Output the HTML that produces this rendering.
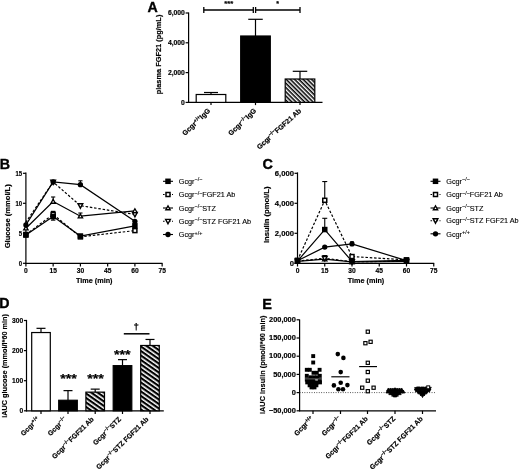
<!DOCTYPE html>
<html><head><meta charset="utf-8"><title>Figure</title><style>html,body{margin:0;padding:0;background:#fff}svg{display:block}</style></head><body>
<svg width="520" height="470" viewBox="0 0 520 470" font-family="Liberation Sans, Arial, sans-serif" fill="#000">
<defs><pattern id="h" width="3" height="3" patternUnits="userSpaceOnUse" patternTransform="rotate(45)"><rect width="3" height="3" fill="#fff"/><rect width="3" height="1.55" fill="#000"/></pattern><pattern id="h2" width="3.68" height="3.68" patternUnits="userSpaceOnUse" patternTransform="translate(0,-0.5) rotate(35)"><rect width="3.68" height="3.68" fill="#fff"/><rect width="3.68" height="2.15" fill="#000"/></pattern></defs>
<rect width="520" height="470" fill="#fff"/>
<text transform="translate(147.60,11.50)" font-size="14.2" font-weight="bold" text-anchor="start" stroke="#000" stroke-width="0.35">A</text>
<line x1="188.60" y1="12.50" x2="188.60" y2="103.00" stroke="#000" stroke-width="1.2" />
<line x1="188.00" y1="102.40" x2="322.50" y2="102.40" stroke="#000" stroke-width="1.2" />
<line x1="185.60" y1="102.40" x2="188.60" y2="102.40" stroke="#000" stroke-width="1.2" />
<text transform="translate(184.90,104.80)" font-size="6.8" font-weight="bold" text-anchor="end"  stroke="#000" stroke-width="0.18">0</text>
<line x1="185.60" y1="72.60" x2="188.60" y2="72.60" stroke="#000" stroke-width="1.2" />
<text transform="translate(184.90,75.00)" font-size="6.8" font-weight="bold" text-anchor="end"  stroke="#000" stroke-width="0.18">2,000</text>
<line x1="185.60" y1="42.80" x2="188.60" y2="42.80" stroke="#000" stroke-width="1.2" />
<text transform="translate(184.90,45.20)" font-size="6.8" font-weight="bold" text-anchor="end"  stroke="#000" stroke-width="0.18">4,000</text>
<line x1="185.60" y1="13.00" x2="188.60" y2="13.00" stroke="#000" stroke-width="1.2" />
<text transform="translate(184.90,15.40)" font-size="6.8" font-weight="bold" text-anchor="end"  stroke="#000" stroke-width="0.18">6,000</text>
<text transform="translate(160.80,54.50) rotate(-90)" font-size="7.4" font-weight="bold" text-anchor="middle"  stroke="#000" stroke-width="0.18">plasma FGF21 (pg/mL)</text>
<line x1="211.00" y1="102.40" x2="211.00" y2="105.10" stroke="#000" stroke-width="1.2" />
<line x1="255.50" y1="102.40" x2="255.50" y2="105.10" stroke="#000" stroke-width="1.2" />
<line x1="300.00" y1="102.40" x2="300.00" y2="105.10" stroke="#000" stroke-width="1.2" />
<line x1="211.00" y1="94.50" x2="211.00" y2="92.50" stroke="#000" stroke-width="1.2" />
<line x1="204.00" y1="92.50" x2="218.00" y2="92.50" stroke="#000" stroke-width="1.2" />
<rect x="196.20" y="94.50" width="29.60" height="7.90" fill="#fff" stroke="#000" stroke-width="1.2"/>
<line x1="255.50" y1="36.00" x2="255.50" y2="19.30" stroke="#000" stroke-width="1.2" />
<line x1="248.25" y1="19.30" x2="262.75" y2="19.30" stroke="#000" stroke-width="1.2" />
<rect x="240.70" y="36.00" width="29.60" height="66.40" fill="#000" stroke="#000" stroke-width="1.2"/>
<line x1="300.00" y1="79.00" x2="300.00" y2="71.30" stroke="#000" stroke-width="1.2" />
<line x1="292.75" y1="71.30" x2="307.25" y2="71.30" stroke="#000" stroke-width="1.2" />
<rect x="285.20" y="79.00" width="29.60" height="23.40" fill="url(#h)" stroke="#000" stroke-width="1.2"/>
<line x1="203.80" y1="10.00" x2="253.30" y2="10.00" stroke="#000" stroke-width="1.4" />
<line x1="203.80" y1="7.00" x2="203.80" y2="13.00" stroke="#000" stroke-width="1.3" />
<line x1="253.30" y1="7.00" x2="253.30" y2="13.00" stroke="#000" stroke-width="1.3" />
<line x1="255.60" y1="10.00" x2="300.00" y2="10.00" stroke="#000" stroke-width="1.4" />
<line x1="255.60" y1="7.00" x2="255.60" y2="13.00" stroke="#000" stroke-width="1.3" />
<line x1="300.00" y1="7.00" x2="300.00" y2="13.00" stroke="#000" stroke-width="1.3" />
<text transform="translate(228.70,6.40) scale(1.1,1)" font-size="7" font-weight="bold" text-anchor="middle"  stroke="#000" stroke-width="0.18">***</text>
<text transform="translate(277.50,6.40)" font-size="7" font-weight="bold" text-anchor="middle"  stroke="#000" stroke-width="0.18">*</text>
<text transform="translate(210.80,111.30) rotate(-44)" font-size="7.05" font-weight="bold" text-anchor="end"  stroke="#000" stroke-width="0.18">Gcgr<tspan font-size="74%" dy="-0.48em">+/+</tspan><tspan dy="0.355em">&#8203;</tspan>IgG</text>
<text transform="translate(256.80,111.30) rotate(-44)" font-size="7.05" font-weight="bold" text-anchor="end"  stroke="#000" stroke-width="0.18">Gcgr<tspan font-size="74%" dy="-0.48em">−/−</tspan><tspan dy="0.355em">&#8203;</tspan>IgG</text>
<text transform="translate(301.80,111.50) rotate(-42)" font-size="7.05" font-weight="bold" text-anchor="end"  stroke="#000" stroke-width="0.18">Gcgr<tspan font-size="74%" dy="-0.48em">−/−</tspan><tspan dy="0.355em">&#8203;</tspan>FGF21 Ab</text>
<text transform="translate(-0.30,168.80)" font-size="14.3" font-weight="bold" text-anchor="start" stroke="#000" stroke-width="0.35">B</text>
<line x1="25.90" y1="172.40" x2="25.90" y2="263.90" stroke="#000" stroke-width="1.2" />
<line x1="25.30" y1="263.30" x2="162.50" y2="263.30" stroke="#000" stroke-width="1.2" />
<line x1="22.90" y1="263.30" x2="25.90" y2="263.30" stroke="#000" stroke-width="1.2" />
<text transform="translate(22.10,265.60) scale(0.82,1)" font-size="7.3" font-weight="bold" text-anchor="end"  stroke="#000" stroke-width="0.18">0</text>
<line x1="22.90" y1="233.30" x2="25.90" y2="233.30" stroke="#000" stroke-width="1.2" />
<text transform="translate(22.10,235.60) scale(0.82,1)" font-size="7.3" font-weight="bold" text-anchor="end"  stroke="#000" stroke-width="0.18">5</text>
<line x1="22.90" y1="203.30" x2="25.90" y2="203.30" stroke="#000" stroke-width="1.2" />
<text transform="translate(22.10,205.60) scale(0.82,1)" font-size="7.3" font-weight="bold" text-anchor="end"  stroke="#000" stroke-width="0.18">10</text>
<line x1="22.90" y1="173.30" x2="25.90" y2="173.30" stroke="#000" stroke-width="1.2" />
<text transform="translate(22.10,175.60) scale(0.82,1)" font-size="7.3" font-weight="bold" text-anchor="end"  stroke="#000" stroke-width="0.18">15</text>
<line x1="25.90" y1="263.30" x2="25.90" y2="266.50" stroke="#000" stroke-width="1.2" />
<text transform="translate(25.90,273.20) scale(0.86,1)" font-size="7.8" font-weight="bold" text-anchor="middle"  stroke="#000" stroke-width="0.18">0</text>
<line x1="53.15" y1="263.30" x2="53.15" y2="266.50" stroke="#000" stroke-width="1.2" />
<text transform="translate(53.15,273.20) scale(0.86,1)" font-size="7.8" font-weight="bold" text-anchor="middle"  stroke="#000" stroke-width="0.18">15</text>
<line x1="80.40" y1="263.30" x2="80.40" y2="266.50" stroke="#000" stroke-width="1.2" />
<text transform="translate(80.40,273.20) scale(0.86,1)" font-size="7.8" font-weight="bold" text-anchor="middle"  stroke="#000" stroke-width="0.18">30</text>
<line x1="107.65" y1="263.30" x2="107.65" y2="266.50" stroke="#000" stroke-width="1.2" />
<text transform="translate(107.65,273.20) scale(0.86,1)" font-size="7.8" font-weight="bold" text-anchor="middle"  stroke="#000" stroke-width="0.18">45</text>
<line x1="134.90" y1="263.30" x2="134.90" y2="266.50" stroke="#000" stroke-width="1.2" />
<text transform="translate(134.90,273.20) scale(0.86,1)" font-size="7.8" font-weight="bold" text-anchor="middle"  stroke="#000" stroke-width="0.18">60</text>
<line x1="162.15" y1="263.30" x2="162.15" y2="266.50" stroke="#000" stroke-width="1.2" />
<text transform="translate(162.15,273.20) scale(0.86,1)" font-size="7.8" font-weight="bold" text-anchor="middle"  stroke="#000" stroke-width="0.18">75</text>
<text transform="translate(94.30,282.90) scale(0.93,1)" font-size="7.8" font-weight="bold" text-anchor="middle"  stroke="#000" stroke-width="0.18">Time (min)</text>
<text transform="translate(10.00,216.30) rotate(-90)" font-size="7.6" font-weight="bold" text-anchor="middle"  stroke="#000" stroke-width="0.18">Glucose (mmol/L)</text>
<polyline points="25.90,234.50 53.15,214.40 80.40,236.90 134.90,230.60" fill="none" stroke="#000" stroke-width="1.2" stroke-dasharray="2.5,1.8"/>
<polyline points="25.70,222.50 53.15,182.00 80.40,205.70 134.90,214.40" fill="none" stroke="#000" stroke-width="1.2" stroke-dasharray="2.5,1.8"/>
<polyline points="25.90,235.10 53.15,216.50 80.40,236.00 134.90,225.80" fill="none" stroke="#000" stroke-width="1.2"/>
<polyline points="25.90,228.20 53.15,201.50 80.40,216.20 134.90,210.80" fill="none" stroke="#000" stroke-width="1.2"/>
<polyline points="25.90,224.90 53.15,182.00 80.40,184.70 134.90,221.30" fill="none" stroke="#000" stroke-width="1.2"/>
<line x1="53.15" y1="200.90" x2="53.15" y2="197.00" stroke="#000" stroke-width="1.1" />
<line x1="51.05" y1="197.00" x2="55.25" y2="197.00" stroke="#000" stroke-width="1.1" />
<line x1="80.40" y1="215.30" x2="80.40" y2="213.02" stroke="#000" stroke-width="1.1" />
<line x1="78.30" y1="213.02" x2="82.50" y2="213.02" stroke="#000" stroke-width="1.1" />
<line x1="80.40" y1="184.70" x2="80.40" y2="180.80" stroke="#000" stroke-width="1.1" />
<line x1="78.30" y1="180.80" x2="82.50" y2="180.80" stroke="#000" stroke-width="1.1" />
<line x1="53.15" y1="216.50" x2="53.15" y2="211.40" stroke="#000" stroke-width="1.2" />
<line x1="50.95" y1="211.40" x2="55.35" y2="211.40" stroke="#000" stroke-width="1.2" />
<line x1="53.15" y1="216.50" x2="53.15" y2="220.10" stroke="#000" stroke-width="1.2" />
<line x1="50.95" y1="220.10" x2="55.35" y2="220.10" stroke="#000" stroke-width="1.2" />
<rect x="23.90" y="232.50" width="4.0" height="4.0" fill="#fff" stroke="#000" stroke-width="1.5"/>
<rect x="51.15" y="212.40" width="4.0" height="4.0" fill="#fff" stroke="#000" stroke-width="1.5"/>
<rect x="78.40" y="234.90" width="4.0" height="4.0" fill="#fff" stroke="#000" stroke-width="1.5"/>
<rect x="132.90" y="228.60" width="4.0" height="4.0" fill="#fff" stroke="#000" stroke-width="1.5"/>
<polygon points="53.15,184.47 55.50,180.12 50.80,180.12" fill="#fff" stroke="#000" stroke-width="1.4" stroke-linejoin="miter"/>
<polygon points="80.40,208.17 82.75,203.82 78.05,203.82" fill="#fff" stroke="#000" stroke-width="1.4" stroke-linejoin="miter"/>
<polygon points="134.90,216.87 137.25,212.52 132.55,212.52" fill="#fff" stroke="#000" stroke-width="1.4" stroke-linejoin="miter"/>
<polygon points="25.90,226.11 28.10,229.96 23.70,229.96" fill="#fff" stroke="#000" stroke-width="1.3" stroke-linejoin="miter"/>
<polygon points="53.15,199.41 55.35,203.26 50.95,203.26" fill="#fff" stroke="#000" stroke-width="1.3" stroke-linejoin="miter"/>
<polygon points="80.40,214.11 82.60,217.96 78.20,217.96" fill="#fff" stroke="#000" stroke-width="1.3" stroke-linejoin="miter"/>
<polygon points="134.90,208.71 137.10,212.56 132.70,212.56" fill="#fff" stroke="#000" stroke-width="1.3" stroke-linejoin="miter"/>
<rect x="23.15" y="232.35" width="5.5" height="5.5" fill="#000"/>
<rect x="50.40" y="213.75" width="5.5" height="5.5" fill="#000"/>
<rect x="77.65" y="233.25" width="5.5" height="5.5" fill="#000"/>
<rect x="132.15" y="223.05" width="5.5" height="5.5" fill="#000"/>
<circle cx="25.90" cy="224.90" r="2.65" fill="#000"/>
<circle cx="53.15" cy="182.00" r="2.65" fill="#000"/>
<circle cx="80.40" cy="184.70" r="2.65" fill="#000"/>
<circle cx="134.90" cy="221.30" r="2.65" fill="#000"/>
<line x1="163.00" y1="181.30" x2="173.00" y2="181.30" stroke="#000" stroke-width="1.1" />
<rect x="165.25" y="178.55" width="5.5" height="5.5" fill="#000"/>
<text transform="translate(178.80,184.00)" font-size="7.25" font-weight="normal" text-anchor="start" stroke="#000" stroke-width="0.12">Gcgr<tspan font-size="74%" dy="-0.48em">−/−</tspan><tspan dy="0.355em">&#8203;</tspan></text>
<line x1="163.00" y1="194.50" x2="173.00" y2="194.50" stroke="#000" stroke-width="1.1" stroke-dasharray="1.6,1.4" />
<rect x="166.00" y="192.50" width="4.0" height="4.0" fill="#fff" stroke="#000" stroke-width="1.5"/>
<text transform="translate(178.80,197.20)" font-size="7.25" font-weight="normal" text-anchor="start" stroke="#000" stroke-width="0.12">Gcgr<tspan font-size="74%" dy="-0.48em">−/−</tspan><tspan dy="0.355em">&#8203;</tspan>FGF21 Ab</text>
<line x1="163.00" y1="208.00" x2="173.00" y2="208.00" stroke="#000" stroke-width="1.1" />
<polygon points="168.00,205.91 170.20,209.76 165.80,209.76" fill="#fff" stroke="#000" stroke-width="1.3" stroke-linejoin="miter"/>
<text transform="translate(178.80,210.70)" font-size="7.25" font-weight="normal" text-anchor="start" stroke="#000" stroke-width="0.12">Gcgr<tspan font-size="74%" dy="-0.48em">−/−</tspan><tspan dy="0.355em">&#8203;</tspan>STZ</text>
<line x1="163.00" y1="221.30" x2="173.00" y2="221.30" stroke="#000" stroke-width="1.1" stroke-dasharray="1.6,1.4" />
<polygon points="168.00,223.77 170.35,219.42 165.65,219.42" fill="#fff" stroke="#000" stroke-width="1.4" stroke-linejoin="miter"/>
<text transform="translate(178.80,224.00)" font-size="7.25" font-weight="normal" text-anchor="start" stroke="#000" stroke-width="0.12">Gcgr<tspan font-size="74%" dy="-0.48em">−/−</tspan><tspan dy="0.355em">&#8203;</tspan>STZ FGF21 Ab</text>
<line x1="163.00" y1="234.50" x2="173.00" y2="234.50" stroke="#000" stroke-width="1.1" />
<circle cx="168.00" cy="234.50" r="2.65" fill="#000"/>
<text transform="translate(178.80,237.20)" font-size="7.25" font-weight="normal" text-anchor="start" stroke="#000" stroke-width="0.12">Gcgr<tspan font-size="74%" dy="-0.48em">+/+</tspan><tspan dy="0.355em">&#8203;</tspan></text>
<text transform="translate(262.40,169.10)" font-size="14.4" font-weight="bold" text-anchor="start" stroke="#000" stroke-width="0.35">C</text>
<line x1="297.50" y1="172.40" x2="297.50" y2="263.90" stroke="#000" stroke-width="1.2" />
<line x1="296.90" y1="263.30" x2="434.20" y2="263.30" stroke="#000" stroke-width="1.2" />
<line x1="294.50" y1="263.30" x2="297.50" y2="263.30" stroke="#000" stroke-width="1.2" />
<text transform="translate(294.00,265.80) scale(0.98,1)" font-size="7.8" font-weight="bold" text-anchor="end"  stroke="#000" stroke-width="0.18">0</text>
<line x1="294.50" y1="233.30" x2="297.50" y2="233.30" stroke="#000" stroke-width="1.2" />
<text transform="translate(294.00,235.80) scale(0.98,1)" font-size="7.8" font-weight="bold" text-anchor="end"  stroke="#000" stroke-width="0.18">2,000</text>
<line x1="294.50" y1="203.30" x2="297.50" y2="203.30" stroke="#000" stroke-width="1.2" />
<text transform="translate(294.00,205.80) scale(0.98,1)" font-size="7.8" font-weight="bold" text-anchor="end"  stroke="#000" stroke-width="0.18">4,000</text>
<line x1="294.50" y1="173.30" x2="297.50" y2="173.30" stroke="#000" stroke-width="1.2" />
<text transform="translate(294.00,175.80) scale(0.98,1)" font-size="7.8" font-weight="bold" text-anchor="end"  stroke="#000" stroke-width="0.18">6,000</text>
<line x1="297.50" y1="263.30" x2="297.50" y2="266.50" stroke="#000" stroke-width="1.2" />
<text transform="translate(297.50,273.20) scale(0.86,1)" font-size="7.8" font-weight="bold" text-anchor="middle"  stroke="#000" stroke-width="0.18">0</text>
<line x1="324.75" y1="263.30" x2="324.75" y2="266.50" stroke="#000" stroke-width="1.2" />
<text transform="translate(324.75,273.20) scale(0.86,1)" font-size="7.8" font-weight="bold" text-anchor="middle"  stroke="#000" stroke-width="0.18">15</text>
<line x1="352.00" y1="263.30" x2="352.00" y2="266.50" stroke="#000" stroke-width="1.2" />
<text transform="translate(352.00,273.20) scale(0.86,1)" font-size="7.8" font-weight="bold" text-anchor="middle"  stroke="#000" stroke-width="0.18">30</text>
<line x1="379.25" y1="263.30" x2="379.25" y2="266.50" stroke="#000" stroke-width="1.2" />
<text transform="translate(379.25,273.20) scale(0.86,1)" font-size="7.8" font-weight="bold" text-anchor="middle"  stroke="#000" stroke-width="0.18">45</text>
<line x1="406.50" y1="263.30" x2="406.50" y2="266.50" stroke="#000" stroke-width="1.2" />
<text transform="translate(406.50,273.20) scale(0.86,1)" font-size="7.8" font-weight="bold" text-anchor="middle"  stroke="#000" stroke-width="0.18">60</text>
<line x1="433.75" y1="263.30" x2="433.75" y2="266.50" stroke="#000" stroke-width="1.2" />
<text transform="translate(433.75,273.20) scale(0.86,1)" font-size="7.8" font-weight="bold" text-anchor="middle"  stroke="#000" stroke-width="0.18">75</text>
<text transform="translate(366.00,282.90) scale(0.93,1)" font-size="7.8" font-weight="bold" text-anchor="middle"  stroke="#000" stroke-width="0.18">Time (min)</text>
<text transform="translate(268.50,214.80) rotate(-90)" font-size="7.6" font-weight="bold" text-anchor="middle"  stroke="#000" stroke-width="0.18">Insulin (pmol/L)</text>
<polyline points="297.50,260.30 324.75,200.30 352.00,256.55 406.50,259.85" fill="none" stroke="#000" stroke-width="1.2" stroke-dasharray="2.5,1.8"/>
<polyline points="297.50,261.05 324.75,258.35 352.00,261.65 406.50,261.35" fill="none" stroke="#000" stroke-width="1.2" stroke-dasharray="2.5,1.8"/>
<polyline points="297.50,261.35 324.75,259.10 352.00,261.95 406.50,261.50" fill="none" stroke="#000" stroke-width="1.2"/>
<polyline points="297.50,261.05 324.75,229.55 352.00,261.50 406.50,260.30" fill="none" stroke="#000" stroke-width="1.2"/>
<polyline points="297.50,260.75 324.75,247.10 352.00,243.95 406.50,260.60" fill="none" stroke="#000" stroke-width="1.2"/>
<line x1="324.75" y1="200.30" x2="324.75" y2="181.55" stroke="#000" stroke-width="1.1" />
<line x1="322.25" y1="181.55" x2="327.25" y2="181.55" stroke="#000" stroke-width="1.1" />
<line x1="324.75" y1="229.55" x2="324.75" y2="218.30" stroke="#000" stroke-width="1.1" />
<line x1="322.25" y1="218.30" x2="327.25" y2="218.30" stroke="#000" stroke-width="1.1" />
<line x1="324.75" y1="258.35" x2="324.75" y2="255.50" stroke="#000" stroke-width="1" />
<line x1="322.25" y1="255.50" x2="327.25" y2="255.50" stroke="#000" stroke-width="1" />
<line x1="352.00" y1="243.95" x2="352.00" y2="241.70" stroke="#000" stroke-width="1" />
<line x1="350.20" y1="241.70" x2="353.80" y2="241.70" stroke="#000" stroke-width="1" />
<polygon points="297.50,259.26 299.70,263.11 295.30,263.11" fill="#fff" stroke="#000" stroke-width="1.3" stroke-linejoin="miter"/>
<polygon points="324.75,257.01 326.95,260.86 322.55,260.86" fill="#fff" stroke="#000" stroke-width="1.3" stroke-linejoin="miter"/>
<polygon points="352.00,259.86 354.20,263.71 349.80,263.71" fill="#fff" stroke="#000" stroke-width="1.3" stroke-linejoin="miter"/>
<polygon points="406.50,259.41 408.70,263.26 404.30,263.26" fill="#fff" stroke="#000" stroke-width="1.3" stroke-linejoin="miter"/>
<polygon points="297.50,263.52 299.85,259.17 295.15,259.17" fill="#fff" stroke="#000" stroke-width="1.4" stroke-linejoin="miter"/>
<polygon points="324.75,260.82 327.10,256.47 322.40,256.47" fill="#fff" stroke="#000" stroke-width="1.4" stroke-linejoin="miter"/>
<polygon points="352.00,264.12 354.35,259.77 349.65,259.77" fill="#fff" stroke="#000" stroke-width="1.4" stroke-linejoin="miter"/>
<polygon points="406.50,263.82 408.85,259.47 404.15,259.47" fill="#fff" stroke="#000" stroke-width="1.4" stroke-linejoin="miter"/>
<rect x="295.50" y="258.30" width="4.0" height="4.0" fill="#fff" stroke="#000" stroke-width="1.5"/>
<rect x="322.75" y="198.30" width="4.0" height="4.0" fill="#fff" stroke="#000" stroke-width="1.5"/>
<rect x="350.00" y="254.55" width="4.0" height="4.0" fill="#fff" stroke="#000" stroke-width="1.5"/>
<rect x="404.50" y="257.85" width="4.0" height="4.0" fill="#fff" stroke="#000" stroke-width="1.5"/>
<circle cx="297.50" cy="260.75" r="2.65" fill="#000"/>
<circle cx="324.75" cy="247.10" r="2.65" fill="#000"/>
<circle cx="352.00" cy="243.95" r="2.65" fill="#000"/>
<circle cx="406.50" cy="260.60" r="2.65" fill="#000"/>
<rect x="294.75" y="258.30" width="5.5" height="5.5" fill="#000"/>
<rect x="322.00" y="226.80" width="5.5" height="5.5" fill="#000"/>
<rect x="349.25" y="258.75" width="5.5" height="5.5" fill="#000"/>
<rect x="403.75" y="257.55" width="5.5" height="5.5" fill="#000"/>
<line x1="430.50" y1="181.30" x2="440.50" y2="181.30" stroke="#000" stroke-width="1.1" />
<rect x="432.75" y="178.55" width="5.5" height="5.5" fill="#000"/>
<text transform="translate(446.30,184.00)" font-size="7.25" font-weight="normal" text-anchor="start" stroke="#000" stroke-width="0.12">Gcgr<tspan font-size="74%" dy="-0.48em">−/−</tspan><tspan dy="0.355em">&#8203;</tspan></text>
<line x1="430.50" y1="194.50" x2="440.50" y2="194.50" stroke="#000" stroke-width="1.1" stroke-dasharray="1.6,1.4" />
<rect x="433.50" y="192.50" width="4.0" height="4.0" fill="#fff" stroke="#000" stroke-width="1.5"/>
<text transform="translate(446.30,197.20)" font-size="7.25" font-weight="normal" text-anchor="start" stroke="#000" stroke-width="0.12">Gcgr<tspan font-size="74%" dy="-0.48em">−/−</tspan><tspan dy="0.355em">&#8203;</tspan>FGF21 Ab</text>
<line x1="430.50" y1="208.00" x2="440.50" y2="208.00" stroke="#000" stroke-width="1.1" />
<polygon points="435.50,205.91 437.70,209.76 433.30,209.76" fill="#fff" stroke="#000" stroke-width="1.3" stroke-linejoin="miter"/>
<text transform="translate(446.30,210.70)" font-size="7.25" font-weight="normal" text-anchor="start" stroke="#000" stroke-width="0.12">Gcgr<tspan font-size="74%" dy="-0.48em">−/−</tspan><tspan dy="0.355em">&#8203;</tspan>STZ</text>
<line x1="430.50" y1="220.70" x2="440.50" y2="220.70" stroke="#000" stroke-width="1.1" stroke-dasharray="1.6,1.4" />
<polygon points="435.50,223.17 437.85,218.82 433.15,218.82" fill="#fff" stroke="#000" stroke-width="1.4" stroke-linejoin="miter"/>
<text transform="translate(446.30,223.40)" font-size="7.25" font-weight="normal" text-anchor="start" stroke="#000" stroke-width="0.12">Gcgr<tspan font-size="74%" dy="-0.48em">−/−</tspan><tspan dy="0.355em">&#8203;</tspan>STZ FGF21 Ab</text>
<line x1="430.50" y1="233.80" x2="440.50" y2="233.80" stroke="#000" stroke-width="1.1" />
<circle cx="435.50" cy="233.80" r="2.65" fill="#000"/>
<text transform="translate(446.30,236.50)" font-size="7.25" font-weight="normal" text-anchor="start" stroke="#000" stroke-width="0.12">Gcgr<tspan font-size="74%" dy="-0.48em">+/+</tspan><tspan dy="0.355em">&#8203;</tspan></text>
<text transform="translate(-0.80,308.40)" font-size="14.2" font-weight="bold" text-anchor="start" stroke="#000" stroke-width="0.35">D</text>
<line x1="26.50" y1="319.90" x2="26.50" y2="411.40" stroke="#000" stroke-width="1.2" />
<line x1="25.90" y1="410.80" x2="163.80" y2="410.80" stroke="#000" stroke-width="1.2" />
<line x1="23.90" y1="410.80" x2="26.50" y2="410.80" stroke="#000" stroke-width="1.2" />
<text transform="translate(23.20,413.40) scale(0.84,1)" font-size="8" font-weight="bold" text-anchor="end"  stroke="#000" stroke-width="0.18">0</text>
<line x1="23.90" y1="380.70" x2="26.50" y2="380.70" stroke="#000" stroke-width="1.2" />
<text transform="translate(23.20,383.30) scale(0.84,1)" font-size="8" font-weight="bold" text-anchor="end"  stroke="#000" stroke-width="0.18">100</text>
<line x1="23.90" y1="350.60" x2="26.50" y2="350.60" stroke="#000" stroke-width="1.2" />
<text transform="translate(23.20,353.20) scale(0.84,1)" font-size="8" font-weight="bold" text-anchor="end"  stroke="#000" stroke-width="0.18">200</text>
<line x1="23.90" y1="320.50" x2="26.50" y2="320.50" stroke="#000" stroke-width="1.2" />
<text transform="translate(23.20,323.10) scale(0.84,1)" font-size="8" font-weight="bold" text-anchor="end"  stroke="#000" stroke-width="0.18">300</text>
<text transform="translate(7.10,365.90) rotate(-90) scale(1,0.9)" font-size="7.3" font-weight="bold" text-anchor="middle"  stroke="#000" stroke-width="0.18">iAUC glucose (mmol/l*60 min)</text>
<line x1="41.00" y1="410.80" x2="41.00" y2="414.00" stroke="#000" stroke-width="1.2" />
<line x1="41.00" y1="332.54" x2="41.00" y2="328.33" stroke="#000" stroke-width="1.2" />
<line x1="36.50" y1="328.33" x2="45.50" y2="328.33" stroke="#000" stroke-width="1.2" />
<rect x="31.70" y="332.54" width="18.60" height="78.26" fill="#fff" stroke="#000" stroke-width="1.2"/>
<line x1="68.00" y1="410.80" x2="68.00" y2="414.00" stroke="#000" stroke-width="1.2" />
<line x1="68.00" y1="400.26" x2="68.00" y2="390.63" stroke="#000" stroke-width="1.2" />
<line x1="63.50" y1="390.63" x2="72.50" y2="390.63" stroke="#000" stroke-width="1.2" />
<rect x="58.70" y="400.26" width="18.60" height="10.54" fill="#000" stroke="#000" stroke-width="1.2"/>
<line x1="95.20" y1="410.80" x2="95.20" y2="414.00" stroke="#000" stroke-width="1.2" />
<line x1="95.20" y1="392.14" x2="95.20" y2="389.13" stroke="#000" stroke-width="1.2" />
<line x1="90.70" y1="389.13" x2="99.70" y2="389.13" stroke="#000" stroke-width="1.2" />
<rect x="85.90" y="392.14" width="18.60" height="18.66" fill="url(#h2)" stroke="#000" stroke-width="1.2"/>
<line x1="122.50" y1="410.80" x2="122.50" y2="414.00" stroke="#000" stroke-width="1.2" />
<line x1="122.50" y1="365.65" x2="122.50" y2="359.63" stroke="#000" stroke-width="1.2" />
<line x1="118.00" y1="359.63" x2="127.00" y2="359.63" stroke="#000" stroke-width="1.2" />
<rect x="113.20" y="365.65" width="18.60" height="45.15" fill="#000" stroke="#000" stroke-width="1.2"/>
<line x1="150.00" y1="410.80" x2="150.00" y2="414.00" stroke="#000" stroke-width="1.2" />
<line x1="150.00" y1="345.48" x2="150.00" y2="339.46" stroke="#000" stroke-width="1.2" />
<line x1="145.50" y1="339.46" x2="154.50" y2="339.46" stroke="#000" stroke-width="1.2" />
<rect x="140.70" y="345.48" width="18.60" height="65.32" fill="url(#h2)" stroke="#000" stroke-width="1.2"/>
<text transform="translate(68.50,383.20) scale(1.1,1)" font-size="13" font-weight="bold" text-anchor="middle"  stroke="#000" stroke-width="0.18">***</text>
<text transform="translate(95.50,383.20) scale(1.1,1)" font-size="13" font-weight="bold" text-anchor="middle"  stroke="#000" stroke-width="0.18">***</text>
<text transform="translate(122.30,359.30) scale(1.1,1)" font-size="13" font-weight="bold" text-anchor="middle"  stroke="#000" stroke-width="0.18">***</text>
<line x1="123.80" y1="333.80" x2="149.50" y2="333.80" stroke="#000" stroke-width="1.5" />
<text transform="translate(136.30,329.60)" font-size="9.8" font-weight="bold" text-anchor="middle"  stroke="#000" stroke-width="0.18">†</text>
<text transform="translate(40.00,419.70) rotate(-45)" font-size="6.9" font-weight="bold" text-anchor="end"  stroke="#000" stroke-width="0.18">Gcgr<tspan font-size="74%" dy="-0.48em">+/+</tspan><tspan dy="0.355em">&#8203;</tspan></text>
<text transform="translate(67.00,419.70) rotate(-45)" font-size="6.9" font-weight="bold" text-anchor="end"  stroke="#000" stroke-width="0.18">Gcgr<tspan font-size="74%" dy="-0.48em">−/−</tspan><tspan dy="0.355em">&#8203;</tspan></text>
<text transform="translate(94.20,419.70) rotate(-45)" font-size="6.9" font-weight="bold" text-anchor="end"  stroke="#000" stroke-width="0.18">Gcgr<tspan font-size="74%" dy="-0.48em">−/−</tspan><tspan dy="0.355em">&#8203;</tspan>FGF21 Ab</text>
<text transform="translate(121.50,419.70) rotate(-45)" font-size="6.9" font-weight="bold" text-anchor="end"  stroke="#000" stroke-width="0.18">Gcgr<tspan font-size="74%" dy="-0.48em">−/−</tspan><tspan dy="0.355em">&#8203;</tspan>STZ</text>
<text transform="translate(149.00,419.70) rotate(-45)" font-size="6.9" font-weight="bold" text-anchor="end"  stroke="#000" stroke-width="0.18">Gcgr<tspan font-size="74%" dy="-0.48em">−/−</tspan><tspan dy="0.355em">&#8203;</tspan>STZ FGF21 Ab</text>
<text transform="translate(262.30,308.70)" font-size="14.5" font-weight="bold" text-anchor="start" stroke="#000" stroke-width="0.35">E</text>
<line x1="299.60" y1="319.60" x2="299.60" y2="411.30" stroke="#000" stroke-width="1.2" />
<line x1="299.00" y1="410.80" x2="436.00" y2="410.80" stroke="#000" stroke-width="1.2" />
<line x1="299.60" y1="392.60" x2="436.00" y2="392.60" stroke="#000" stroke-width="0.9" stroke-dasharray="0.9,1.5" opacity="0.8"/>
<line x1="296.60" y1="410.80" x2="299.60" y2="410.80" stroke="#000" stroke-width="1.2" />
<text transform="translate(295.80,412.90)" font-size="7.4" font-weight="bold" text-anchor="end"  stroke="#000" stroke-width="0.18">−50,000</text>
<line x1="296.60" y1="392.60" x2="299.60" y2="392.60" stroke="#000" stroke-width="1.2" />
<text transform="translate(295.80,394.70)" font-size="7.4" font-weight="bold" text-anchor="end"  stroke="#000" stroke-width="0.18">0</text>
<line x1="296.60" y1="374.40" x2="299.60" y2="374.40" stroke="#000" stroke-width="1.2" />
<text transform="translate(295.80,376.50)" font-size="7.4" font-weight="bold" text-anchor="end"  stroke="#000" stroke-width="0.18">50,000</text>
<line x1="296.60" y1="356.20" x2="299.60" y2="356.20" stroke="#000" stroke-width="1.2" />
<text transform="translate(295.80,358.30)" font-size="7.4" font-weight="bold" text-anchor="end"  stroke="#000" stroke-width="0.18">100,000</text>
<line x1="296.60" y1="338.00" x2="299.60" y2="338.00" stroke="#000" stroke-width="1.2" />
<text transform="translate(295.80,340.10)" font-size="7.4" font-weight="bold" text-anchor="end"  stroke="#000" stroke-width="0.18">150,000</text>
<line x1="296.60" y1="319.80" x2="299.60" y2="319.80" stroke="#000" stroke-width="1.2" />
<text transform="translate(295.80,321.90)" font-size="7.4" font-weight="bold" text-anchor="end"  stroke="#000" stroke-width="0.18">200,000</text>
<text transform="translate(264.60,364.80) rotate(-90) scale(1,0.97)" font-size="7.35" font-weight="bold" text-anchor="middle"  stroke="#000" stroke-width="0.18">iAUC insulin (pmol/l*60 min)</text>
<line x1="313.00" y1="410.80" x2="313.00" y2="414.00" stroke="#000" stroke-width="1.2" />
<line x1="340.50" y1="410.80" x2="340.50" y2="414.00" stroke="#000" stroke-width="1.2" />
<line x1="367.50" y1="410.80" x2="367.50" y2="414.00" stroke="#000" stroke-width="1.2" />
<line x1="395.00" y1="410.80" x2="395.00" y2="414.00" stroke="#000" stroke-width="1.2" />
<line x1="422.50" y1="410.80" x2="422.50" y2="414.00" stroke="#000" stroke-width="1.2" />
<rect x="311.25" y="354.15" width="3.9" height="3.9" fill="#000"/>
<rect x="311.25" y="360.55" width="3.9" height="3.9" fill="#000"/>
<rect x="304.85" y="367.85" width="3.9" height="3.9" fill="#000"/>
<rect x="307.85" y="367.85" width="3.9" height="3.9" fill="#000"/>
<rect x="317.65" y="367.85" width="3.9" height="3.9" fill="#000"/>
<rect x="311.55" y="370.85" width="3.9" height="3.9" fill="#000"/>
<rect x="314.85" y="370.85" width="3.9" height="3.9" fill="#000"/>
<rect x="304.85" y="373.85" width="3.9" height="3.9" fill="#000"/>
<rect x="317.85" y="373.85" width="3.9" height="3.9" fill="#000"/>
<rect x="308.55" y="375.35" width="3.9" height="3.9" fill="#000"/>
<rect x="312.05" y="375.35" width="3.9" height="3.9" fill="#000"/>
<rect x="315.25" y="375.35" width="3.9" height="3.9" fill="#000"/>
<rect x="304.85" y="377.65" width="3.9" height="3.9" fill="#000"/>
<rect x="307.85" y="377.65" width="3.9" height="3.9" fill="#000"/>
<rect x="311.05" y="377.65" width="3.9" height="3.9" fill="#000"/>
<rect x="317.85" y="377.65" width="3.9" height="3.9" fill="#000"/>
<rect x="305.25" y="380.45" width="3.9" height="3.9" fill="#000"/>
<rect x="308.45" y="380.45" width="3.9" height="3.9" fill="#000"/>
<rect x="311.65" y="380.45" width="3.9" height="3.9" fill="#000"/>
<rect x="314.85" y="380.45" width="3.9" height="3.9" fill="#000"/>
<rect x="318.05" y="380.45" width="3.9" height="3.9" fill="#000"/>
<rect x="307.65" y="383.35" width="3.9" height="3.9" fill="#000"/>
<rect x="311.05" y="383.35" width="3.9" height="3.9" fill="#000"/>
<rect x="314.45" y="383.35" width="3.9" height="3.9" fill="#000"/>
<rect x="309.55" y="385.45" width="3.9" height="3.9" fill="#000"/>
<rect x="312.55" y="385.45" width="3.9" height="3.9" fill="#000"/>
<line x1="305" y1="378.9" x2="322" y2="378.9" stroke="#666" stroke-width="1"/>
<circle cx="337.80" cy="354.10" r="2.3" fill="#000"/>
<circle cx="343.40" cy="357.90" r="2.3" fill="#000"/>
<circle cx="340.70" cy="372.10" r="2.3" fill="#000"/>
<circle cx="340.70" cy="382.70" r="2.3" fill="#000"/>
<circle cx="333.90" cy="385.40" r="2.3" fill="#000"/>
<circle cx="347.40" cy="385.10" r="2.3" fill="#000"/>
<circle cx="338.40" cy="389.20" r="2.3" fill="#000"/>
<circle cx="343.00" cy="389.20" r="2.3" fill="#000"/>
<line x1="331.30" y1="376.80" x2="349.50" y2="376.80" stroke="#000" stroke-width="1.15" />
<rect x="366.20" y="330.10" width="3.2" height="3.2" fill="#fff" stroke="#000" stroke-width="1.15"/>
<rect x="363.80" y="341.60" width="3.2" height="3.2" fill="#fff" stroke="#000" stroke-width="1.15"/>
<rect x="369.00" y="340.20" width="3.2" height="3.2" fill="#fff" stroke="#000" stroke-width="1.15"/>
<rect x="366.20" y="361.20" width="3.2" height="3.2" fill="#fff" stroke="#000" stroke-width="1.15"/>
<rect x="366.20" y="370.40" width="3.2" height="3.2" fill="#fff" stroke="#000" stroke-width="1.15"/>
<rect x="366.20" y="379.10" width="3.2" height="3.2" fill="#fff" stroke="#000" stroke-width="1.15"/>
<rect x="360.60" y="386.10" width="3.2" height="3.2" fill="#fff" stroke="#000" stroke-width="1.15"/>
<rect x="372.00" y="386.10" width="3.2" height="3.2" fill="#fff" stroke="#000" stroke-width="1.15"/>
<rect x="366.20" y="389.60" width="3.2" height="3.2" fill="#fff" stroke="#000" stroke-width="1.15"/>
<line x1="359.10" y1="366.60" x2="377.00" y2="366.60" stroke="#000" stroke-width="1.15" />
<polygon points="388.30,387.99 390.00,390.96 386.60,390.96" fill="#000" stroke="#000" stroke-width="0.8" stroke-linejoin="miter"/>
<polygon points="390.20,387.99 391.90,390.96 388.50,390.96" fill="#000" stroke="#000" stroke-width="0.8" stroke-linejoin="miter"/>
<polygon points="392.10,387.99 393.80,390.96 390.40,390.96" fill="#000" stroke="#000" stroke-width="0.8" stroke-linejoin="miter"/>
<polygon points="394.00,387.99 395.70,390.96 392.30,390.96" fill="#000" stroke="#000" stroke-width="0.8" stroke-linejoin="miter"/>
<polygon points="396.00,387.99 397.70,390.96 394.30,390.96" fill="#000" stroke="#000" stroke-width="0.8" stroke-linejoin="miter"/>
<polygon points="397.90,387.99 399.60,390.96 396.20,390.96" fill="#000" stroke="#000" stroke-width="0.8" stroke-linejoin="miter"/>
<polygon points="399.80,387.99 401.50,390.96 398.10,390.96" fill="#000" stroke="#000" stroke-width="0.8" stroke-linejoin="miter"/>
<polygon points="401.70,387.99 403.40,390.96 400.00,390.96" fill="#000" stroke="#000" stroke-width="0.8" stroke-linejoin="miter"/>
<polygon points="387.60,389.99 389.30,392.96 385.90,392.96" fill="#000" stroke="#000" stroke-width="0.8" stroke-linejoin="miter"/>
<polygon points="389.50,389.99 391.20,392.96 387.80,392.96" fill="#000" stroke="#000" stroke-width="0.8" stroke-linejoin="miter"/>
<polygon points="391.50,389.99 393.20,392.96 389.80,392.96" fill="#000" stroke="#000" stroke-width="0.8" stroke-linejoin="miter"/>
<polygon points="393.50,389.99 395.20,392.96 391.80,392.96" fill="#000" stroke="#000" stroke-width="0.8" stroke-linejoin="miter"/>
<polygon points="395.50,389.99 397.20,392.96 393.80,392.96" fill="#000" stroke="#000" stroke-width="0.8" stroke-linejoin="miter"/>
<polygon points="397.50,389.99 399.20,392.96 395.80,392.96" fill="#000" stroke="#000" stroke-width="0.8" stroke-linejoin="miter"/>
<polygon points="399.50,389.99 401.20,392.96 397.80,392.96" fill="#000" stroke="#000" stroke-width="0.8" stroke-linejoin="miter"/>
<polygon points="401.50,389.99 403.20,392.96 399.80,392.96" fill="#000" stroke="#000" stroke-width="0.8" stroke-linejoin="miter"/>
<polygon points="403.30,389.99 405.00,392.96 401.60,392.96" fill="#000" stroke="#000" stroke-width="0.8" stroke-linejoin="miter"/>
<polygon points="390.50,391.69 392.20,394.66 388.80,394.66" fill="#000" stroke="#000" stroke-width="0.8" stroke-linejoin="miter"/>
<polygon points="392.70,391.69 394.40,394.66 391.00,394.66" fill="#000" stroke="#000" stroke-width="0.8" stroke-linejoin="miter"/>
<polygon points="395.00,391.69 396.70,394.66 393.30,394.66" fill="#000" stroke="#000" stroke-width="0.8" stroke-linejoin="miter"/>
<polygon points="397.30,391.69 399.00,394.66 395.60,394.66" fill="#000" stroke="#000" stroke-width="0.8" stroke-linejoin="miter"/>
<polygon points="399.50,391.69 401.20,394.66 397.80,394.66" fill="#000" stroke="#000" stroke-width="0.8" stroke-linejoin="miter"/>
<polygon points="393.30,393.19 395.00,396.16 391.60,396.16" fill="#000" stroke="#000" stroke-width="0.8" stroke-linejoin="miter"/>
<polygon points="395.00,393.19 396.70,396.16 393.30,396.16" fill="#000" stroke="#000" stroke-width="0.8" stroke-linejoin="miter"/>
<polygon points="396.70,393.19 398.40,396.16 395.00,396.16" fill="#000" stroke="#000" stroke-width="0.8" stroke-linejoin="miter"/>
<polygon points="395.00,393.99 396.70,396.96 393.30,396.96" fill="#000" stroke="#000" stroke-width="0.8" stroke-linejoin="miter"/>
<polygon points="395.00,387.69 396.70,390.66 393.30,390.66" fill="#000" stroke="#000" stroke-width="0.8" stroke-linejoin="miter"/>
<polygon points="416.30,390.69 418.00,387.54 414.60,387.54" fill="#000" stroke="#000" stroke-width="0.8" stroke-linejoin="miter"/>
<polygon points="418.20,390.09 419.90,386.94 416.50,386.94" fill="#000" stroke="#000" stroke-width="0.8" stroke-linejoin="miter"/>
<polygon points="420.20,390.59 421.90,387.44 418.50,387.44" fill="#000" stroke="#000" stroke-width="0.8" stroke-linejoin="miter"/>
<polygon points="422.30,390.19 424.00,387.04 420.60,387.04" fill="#000" stroke="#000" stroke-width="0.8" stroke-linejoin="miter"/>
<polygon points="424.30,390.69 426.00,387.54 422.60,387.54" fill="#000" stroke="#000" stroke-width="0.8" stroke-linejoin="miter"/>
<polygon points="426.30,390.09 428.00,386.94 424.60,386.94" fill="#000" stroke="#000" stroke-width="0.8" stroke-linejoin="miter"/>
<polygon points="428.00,390.79 429.70,387.64 426.30,387.64" fill="#000" stroke="#000" stroke-width="0.8" stroke-linejoin="miter"/>
<polygon points="429.60,390.39 431.30,387.24 427.90,387.24" fill="#000" stroke="#000" stroke-width="0.8" stroke-linejoin="miter"/>
<polygon points="416.00,392.19 417.70,389.04 414.30,389.04" fill="#000" stroke="#000" stroke-width="0.8" stroke-linejoin="miter"/>
<polygon points="418.00,392.19 419.70,389.04 416.30,389.04" fill="#000" stroke="#000" stroke-width="0.8" stroke-linejoin="miter"/>
<polygon points="420.00,392.19 421.70,389.04 418.30,389.04" fill="#000" stroke="#000" stroke-width="0.8" stroke-linejoin="miter"/>
<polygon points="422.00,392.19 423.70,389.04 420.30,389.04" fill="#000" stroke="#000" stroke-width="0.8" stroke-linejoin="miter"/>
<polygon points="424.00,392.19 425.70,389.04 422.30,389.04" fill="#000" stroke="#000" stroke-width="0.8" stroke-linejoin="miter"/>
<polygon points="426.00,392.19 427.70,389.04 424.30,389.04" fill="#000" stroke="#000" stroke-width="0.8" stroke-linejoin="miter"/>
<polygon points="428.00,392.19 429.70,389.04 426.30,389.04" fill="#000" stroke="#000" stroke-width="0.8" stroke-linejoin="miter"/>
<polygon points="429.30,392.19 431.00,389.04 427.60,389.04" fill="#000" stroke="#000" stroke-width="0.8" stroke-linejoin="miter"/>
<polygon points="418.30,394.19 420.00,391.04 416.60,391.04" fill="#000" stroke="#000" stroke-width="0.8" stroke-linejoin="miter"/>
<polygon points="420.30,394.19 422.00,391.04 418.60,391.04" fill="#000" stroke="#000" stroke-width="0.8" stroke-linejoin="miter"/>
<polygon points="422.30,394.19 424.00,391.04 420.60,391.04" fill="#000" stroke="#000" stroke-width="0.8" stroke-linejoin="miter"/>
<polygon points="424.30,394.19 426.00,391.04 422.60,391.04" fill="#000" stroke="#000" stroke-width="0.8" stroke-linejoin="miter"/>
<polygon points="426.50,394.19 428.20,391.04 424.80,391.04" fill="#000" stroke="#000" stroke-width="0.8" stroke-linejoin="miter"/>
<polygon points="420.70,395.99 422.40,392.84 419.00,392.84" fill="#000" stroke="#000" stroke-width="0.8" stroke-linejoin="miter"/>
<polygon points="422.50,395.99 424.20,392.84 420.80,392.84" fill="#000" stroke="#000" stroke-width="0.8" stroke-linejoin="miter"/>
<polygon points="424.30,395.99 426.00,392.84 422.60,392.84" fill="#000" stroke="#000" stroke-width="0.8" stroke-linejoin="miter"/>
<polygon points="422.50,397.59 424.20,394.44 420.80,394.44" fill="#000" stroke="#000" stroke-width="0.8" stroke-linejoin="miter"/>
<rect x="426.75" y="385.85" width="2.9" height="2.9" fill="#fff" stroke="#000" stroke-width="1"/>
<text transform="translate(313.80,419.30) rotate(-45)" font-size="7.0" font-weight="bold" text-anchor="end"  stroke="#000" stroke-width="0.18">Gcgr<tspan font-size="74%" dy="-0.48em">+/+</tspan><tspan dy="0.355em">&#8203;</tspan></text>
<text transform="translate(341.30,419.30) rotate(-45)" font-size="7.0" font-weight="bold" text-anchor="end"  stroke="#000" stroke-width="0.18">Gcgr<tspan font-size="74%" dy="-0.48em">−/−</tspan><tspan dy="0.355em">&#8203;</tspan></text>
<text transform="translate(368.30,419.30) rotate(-45)" font-size="7.0" font-weight="bold" text-anchor="end"  stroke="#000" stroke-width="0.18">Gcgr<tspan font-size="74%" dy="-0.48em">−/−</tspan><tspan dy="0.355em">&#8203;</tspan>FGF21 Ab</text>
<text transform="translate(395.80,419.30) rotate(-45)" font-size="7.0" font-weight="bold" text-anchor="end"  stroke="#000" stroke-width="0.18">Gcgr<tspan font-size="74%" dy="-0.48em">−/−</tspan><tspan dy="0.355em">&#8203;</tspan>STZ</text>
<text transform="translate(423.30,419.30) rotate(-45)" font-size="7.0" font-weight="bold" text-anchor="end"  stroke="#000" stroke-width="0.18">Gcgr<tspan font-size="74%" dy="-0.48em">−/−</tspan><tspan dy="0.355em">&#8203;</tspan>STZ FGF21 Ab</text>
</svg>
</body></html>
